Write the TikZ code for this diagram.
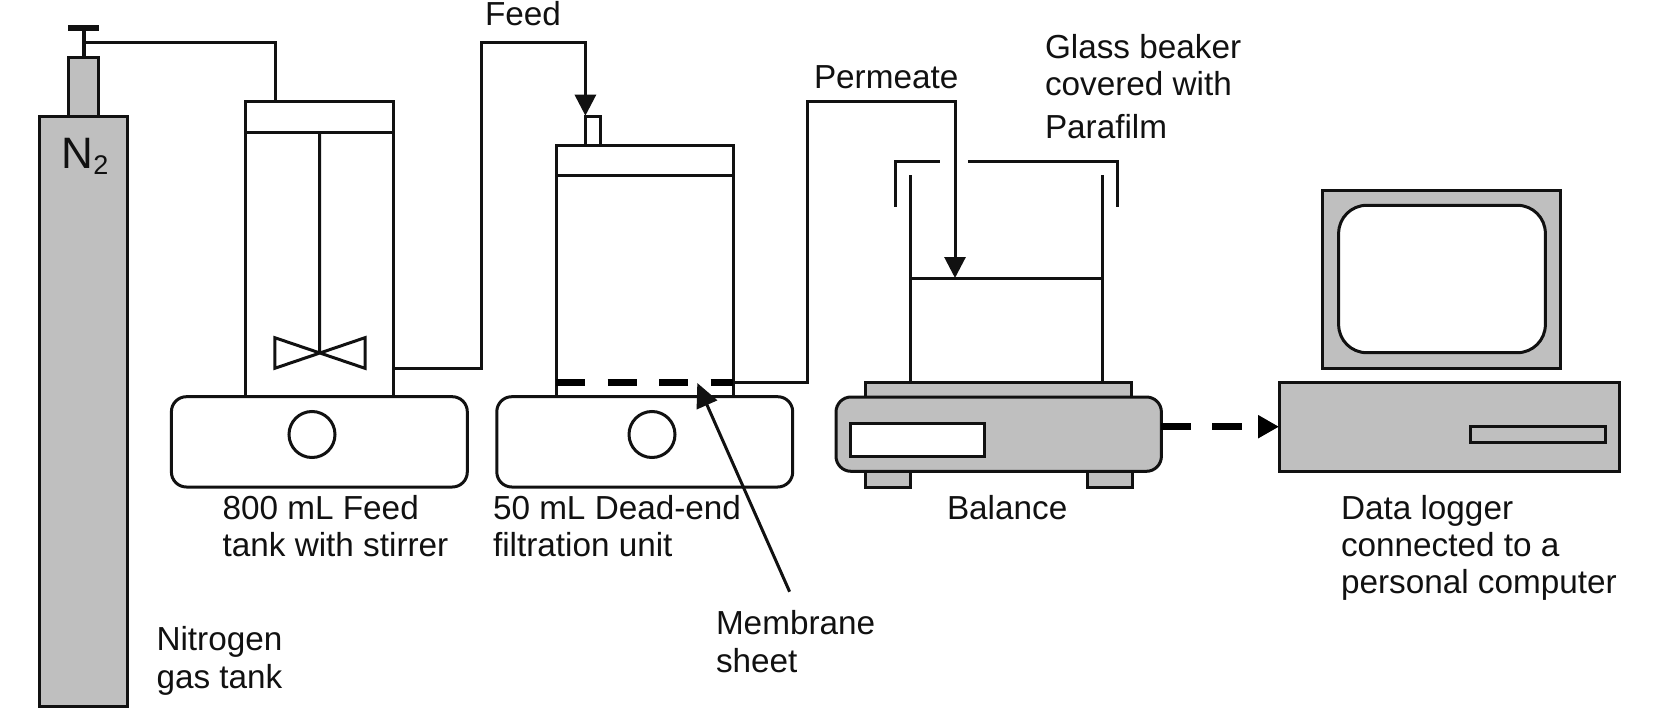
\documentclass[tikz,border=0pt]{standalone}
\usepackage{fontspec}
\setmainfont{Liberation Sans}
\usetikzlibrary{arrows.meta}
\definecolor{devgray}{HTML}{BFBFBF}
\definecolor{inkc}{HTML}{111111}
\newcommand{\pxbox}[6]{\node[#2,minimum width={(#5-#3)*1pt},minimum height={(#6-#4)*1pt}] (#1) at ({(#3+#5)/2},{(#4+#6)/2}) {};}
\newcommand{\lbl}[4]{\node[lab] (#1) at (#2,#3+1.5) {#4};}
\tikzset{
  x=1pt,y=-1pt,
  every path/.style={color=inkc},
  part/.style={draw=inkc,line width=3pt,inner sep=0pt,outer sep=0pt},
  whitepart/.style={part,fill=white},
  graypart/.style={part,fill=devgray},
  roundwhite/.style={whitepart,rounded corners=15pt},
  roundgray/.style={graypart,rounded corners=15pt},
  pipe/.style={draw=inkc,line width=3pt},
  head/.style={-{Triangle[length=21pt,width=21pt]}},
  lab/.style={anchor=base west,inner sep=0pt,outer sep=0pt,text=inkc,font=\fontsize{33.3}{33.3}\selectfont},
}
\begin{document}
\begin{tikzpicture}
\useasboundingbox (0,0) rectangle (1654,709);
% gas tank
\pxbox{neck}{graypart}{68.6}{58}{98.6}{116.7}
\pxbox{tank}{graypart}{39.5}{116.7}{127.3}{706.7}
\pxbox{tbar}{part,fill=inkc,line width=0pt}{68.6}{25.5}{98.6}{31}
\draw[line width=4pt] (tbar.south) -- (neck.north);
\node[lab,font=\fontsize{44}{44}\selectfont] (ntwo) at (61.5,168) {N\raisebox{-6pt}{\fontsize{27}{27}\selectfont 2}};
% feed tank
\pxbox{tankA}{whitepart}{245.8}{132}{393.5}{396.7}
\pxbox{lidA}{whitepart}{245.8}{101}{393.5}{132}
\coordinate (hub) at (319.7,353);
\draw[pipe] (lidA.south) -- (hub);
\draw[pipe,line join=miter] (274.8,337.7) -- (365,368.3) -- (365,337.7) -- (274.8,368.3) -- cycle;
\pxbox{plateA}{roundwhite}{171.4}{396.7}{467.3}{487}
\node[part,circle,minimum size=46pt] (knobA) at (312,434.5) {};
% filtration unit
\pxbox{unitB}{whitepart}{556}{175.7}{733}{396.7}
\pxbox{lidB}{whitepart}{556}{145.7}{733}{175.7}
\pxbox{inlet}{whitepart}{585.4}{116.7}{600.2}{145.7}
\pxbox{plateB}{roundwhite}{496.8}{396.7}{792.7}{487}
\node[part,circle,minimum size=46pt] (knobB) at (652,434.5) {};
\coordinate (memL) at (556,382.7);
\coordinate (memR) at (733,382.7);
\draw[line width=6.5pt,dash pattern=on 29pt off 22.5pt,color=black] (memL) -- (memR);
% pipes
\coordinate (gasout) at (83.6,42.7);
\coordinate (lidAin) at (275.3,102);
\draw[pipe,line join=miter] (gasout) -| (lidAin);
\coordinate (tankAout) at (393.5,368.3);
\coordinate (riseA) at (481.5,42.7);
\coordinate (inletIn) at (585.4,115.7);
\draw[pipe,line join=miter,head] (tankAout) -| (riseA) -| (inletIn);
\coordinate (riseB) at (807,101);
\coordinate (liquid) at (955,278);
\draw[pipe,line join=miter,head] (memR) -| (riseB) -| (liquid);
% beaker
\coordinate (bkTL) at (910.3,175);
\coordinate (bkBL) at (910.3,383);
\coordinate (bkTR) at (1102.3,175);
\coordinate (bkBR) at (1102.3,383);
\coordinate (lvL) at (910.3,278);
\coordinate (lvR) at (1102.3,278);
\draw[pipe] (bkTL) -- (bkBL);
\draw[pipe] (bkTR) -- (bkBR);
\draw[pipe] (lvL) -- (lvR);
\draw[pipe,line join=miter] (895,206.7) |- (940.4,161);
\draw[pipe,line join=miter] (967.8,161) -| (1117,206.7);
% balance
\pxbox{footL}{graypart}{865.5}{471.3}{910.3}{487}
\pxbox{footR}{graypart}{1087}{471.3}{1132.4}{487}
\pxbox{pan}{graypart}{865.5}{382.7}{1131.9}{397}
\pxbox{balance}{roundgray}{836}{397}{1161.4}{471.3}
\pxbox{display}{whitepart}{850.7}{423}{984.7}{456.7}
% computer
\pxbox{monitor}{graypart}{1322.8}{190.3}{1560.6}{368.3}
\node[whitepart,rounded corners=28pt,minimum width=206.7pt,minimum height=147.4pt] (screen) at (1442,279) {};
\pxbox{logger}{graypart}{1279}{382.7}{1619.7}{471.7}
\pxbox{slot}{graypart}{1470.5}{426}{1605.5}{442.3}
% signal
\coordinate (balOut) at (1161.4,426.7);
\coordinate (logIn) at (1279,426.7);
\draw[line width=7pt,dash pattern=on 29.6pt off 21pt,-{Triangle[length=21pt,width=22pt]},color=black] (balOut) -- (logIn);
% membrane arrow
\coordinate (memTail) at (789.6,591.7);
\coordinate (memTip) at (697.3,383);
\draw[pipe,-{Triangle[length=24pt,width=22pt]}] (memTail) -- (memTip);
% labels
\lbl{tFeed}{485}{24}{Feed}
\lbl{tPerm}{814}{87}{Permeate}
\lbl{tG1}{1045}{56.7}{Glass beaker}
\lbl{tG2}{1045}{94.3}{covered with}
\lbl{tG3}{1045}{136.7}{Parafilm}
\lbl{tA1}{222.6}{517.7}{800 mL Feed}
\lbl{tA2}{222.6}{555}{tank with stirrer}
\lbl{tB1}{493}{517.7}{50 mL Dead-end}
\lbl{tB2}{493}{555}{filtration unit}
\lbl{tN1}{156.5}{649}{Nitrogen}
\lbl{tN2}{156.5}{686.7}{gas tank}
\lbl{tM1}{716}{633}{Membrane}
\lbl{tM2}{716}{670.7}{sheet}
\lbl{tBal}{947}{517.7}{Balance}
\lbl{tD1}{1341}{517.7}{Data logger}
\lbl{tD2}{1341}{555}{connected to a}
\lbl{tD3}{1341}{592}{personal computer}
\end{tikzpicture}
\end{document}
